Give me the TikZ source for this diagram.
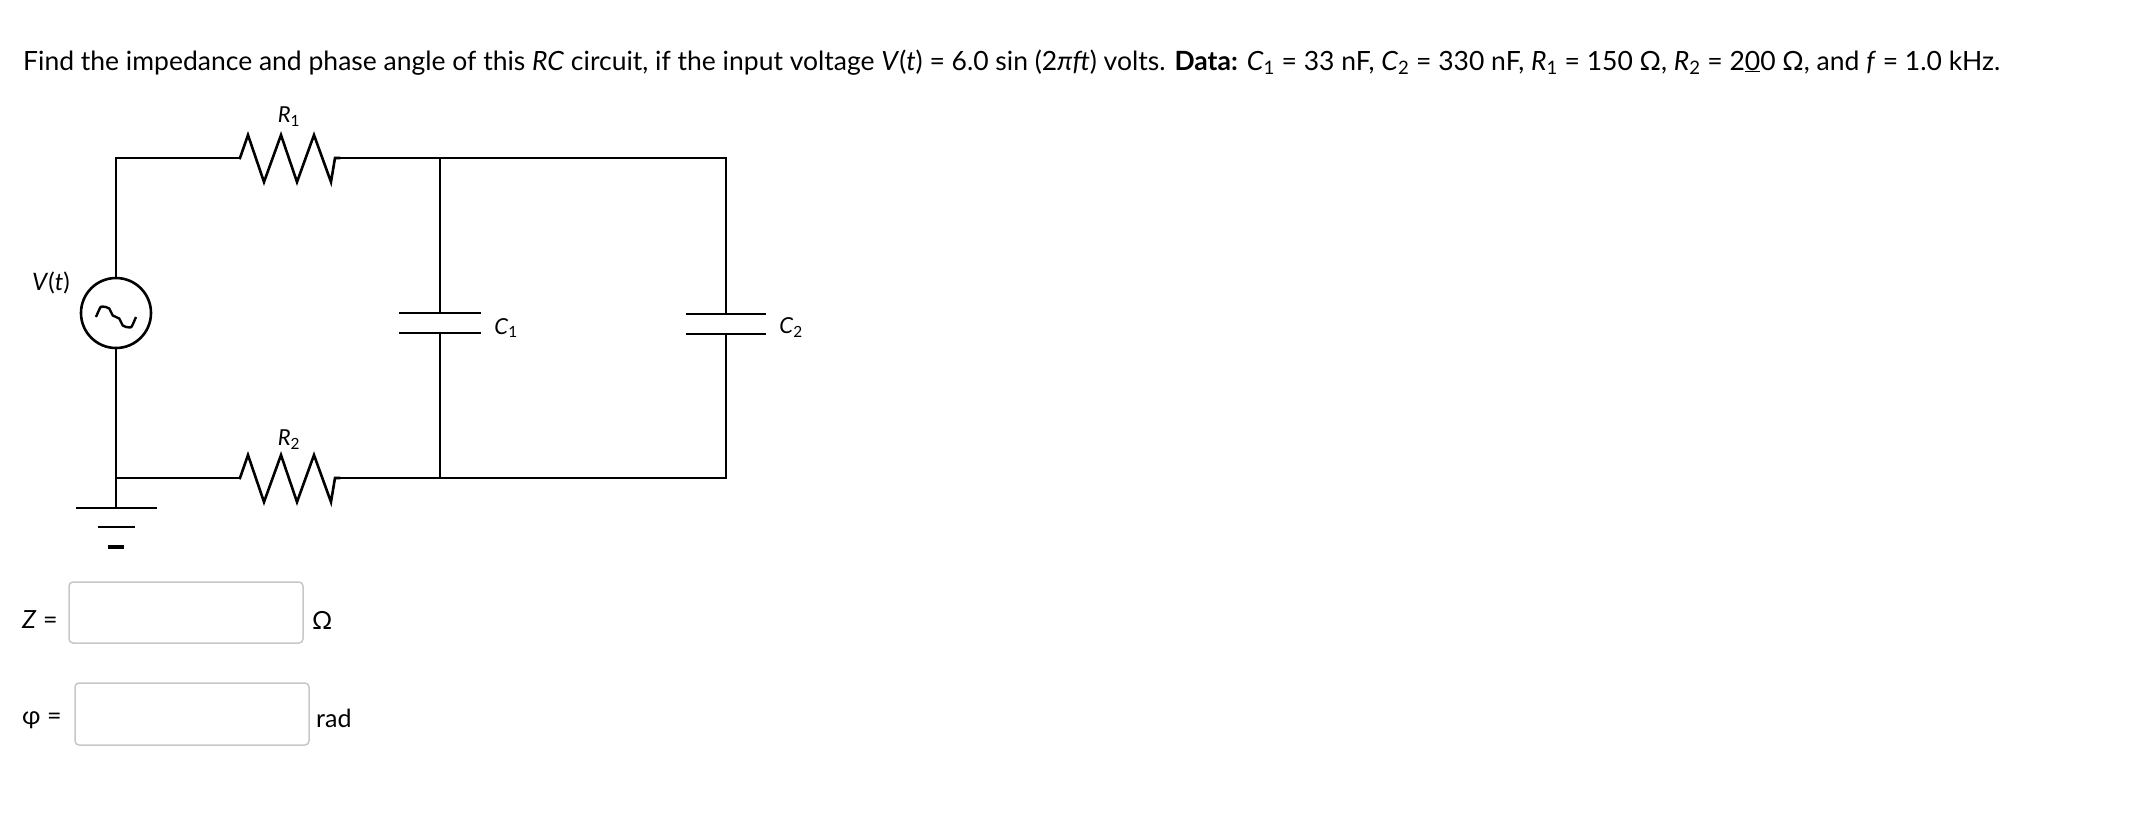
\documentclass[tikz,border=0pt]{standalone}
\usepackage{fontspec}
\setmainfont{Lato}
\begin{document}
\begin{tikzpicture}[x=1pt,y=-1pt,
  wire/.style={line width=2.6pt,line cap=rect,line join=miter},
  lbl/.style={inner sep=0pt,font=\fontsize{22}{26}\selectfont},
  ansbox/.style={draw=black!22,line width=1.5pt,rounded corners=4pt}]
\useasboundingbox (0,0) rectangle (2130,822);
\node[anchor=base west,inner sep=0pt,font=\fontsize{26.5}{30}\selectfont] (title) at (23,70)
 {Find the impedance and phase angle of this \textit{RC} circuit, if the input voltage \textit{V}(\textit{t}) = 6.0 sin (2\textit{πft}) volts. \textbf{Data:} \textit{C}\textsubscript{1} = 33 nF, \textit{C}\textsubscript{2} = 330 nF, \textit{R}\textsubscript{1} = 150 Ω, \textit{R}\textsubscript{2} = 2\underline{0}0 Ω, and \textit{f} = 1.0 kHz.};
% coordinates
\coordinate (tl) at (116,158);
\coordinate (r1a) at (240,158);
\coordinate (r1b) at (339,158);
\coordinate (j1) at (440,158);
\coordinate (tr) at (726,158);
\coordinate (bl) at (116,478);
\coordinate (r2a) at (240,478);
\coordinate (r2b) at (339,478);
\coordinate (j2) at (440,478);
\coordinate (br) at (726,478);
\coordinate (gnd) at (116,508);
\node[circle,draw,line width=2.6pt,minimum size=70pt,inner sep=0pt] (src) at (116,313) {};
\draw[line width=2.4pt] (src.center) ++(-20,4) .. controls ++(6,-14) and ++(-6,0) .. ++(10,-10) .. controls ++(6,0) and ++(-6,0) .. ++(10,10) .. controls ++(6,0) and ++(-6,0) .. ++(10,10) .. controls ++(6,0) and ++(-6,14) .. ++(10,-10);
% wires
\draw[wire] (src.north) -- (tl) -- (r1a);
\draw[wire] (r1a) -- (248,135) -- (264,182) -- (281,135) -- (297,182) -- (314,135) -- (331,182) -- (335,158) -- (r1b);
\draw[wire] (r1b) -- (tr) -- (726,314);
\draw[wire] (j1) -- (440,313);
\draw[wire] (440,333) -- (j2);
\draw[wire] (726,334) -- (br) -- (j2) -- (r2b);
\draw[wire] (r2a) -- (248,455) -- (264,502) -- (281,455) -- (297,502) -- (314,455) -- (331,502) -- (335,478) -- (r2b);
\draw[wire] (r2a) -- (bl);
\draw[wire] (src.south) -- (gnd);
% capacitors
\draw[wire] (400,313) -- (480,313) (400,333) -- (480,333);
\draw[wire] (687,314) -- (765,314) (687,334) -- (765,334);
% ground
\draw[wire] (77,508) -- (156,508);
\draw[wire] (99,527) -- (134,527);
\draw[line width=3.5pt] (108,547) -- (124,547);
% labels
\node[lbl] (lr1) at (289,117) {\textit{R}\textsubscript{1}};
\node[lbl] (lr2) at (289,440) {\textit{R}\textsubscript{2}};
\node[lbl] (lc1) at (506,328) {\textit{C}\textsubscript{1}};
\node[lbl] (lc2) at (791,328) {\textit{C}\textsubscript{2}};
\node[lbl,font=\fontsize{24}{28}\selectfont] (lv) at (51,283) {\textit{V}(\textit{t})};
% answer boxes
\draw[ansbox] (69,582) rectangle (303,643);
\draw[ansbox] (75,683) rectangle (309,745);
\node[anchor=west,inner sep=0pt,font=\fontsize{25}{30}\selectfont] (zl) at (22,620) {\textit{Z} =};
\node[anchor=west,inner sep=0pt,font=\fontsize{25}{30}\selectfont] (zu) at (312,620) {Ω};
\node[anchor=west,inner sep=0pt,font=\fontsize{25}{30}\selectfont] (pl) at (22,720) {φ =};
\node[anchor=west,inner sep=0pt,font=\fontsize{25}{30}\selectfont] (pu) at (316,718) {rad};
\end{tikzpicture}
\end{document}
